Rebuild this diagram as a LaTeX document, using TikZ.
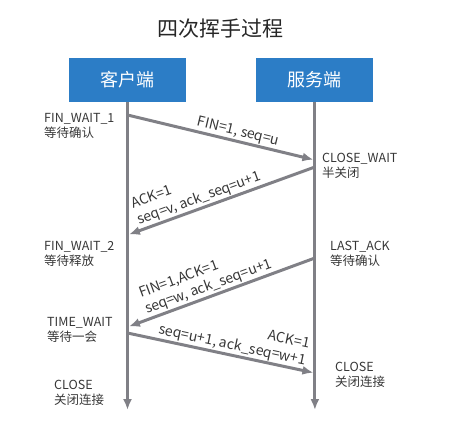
\documentclass[tikz,border=0pt]{standalone}
\usepackage{fontspec}
\setmainfont{Noto Sans CJK SC}
\usepackage{tikz}
\usetikzlibrary{arrows.meta,positioning}
\definecolor{boxblue}{RGB}{44,125,198}
\definecolor{linegray}{RGB}{128,128,134}
\definecolor{txtgray}{RGB}{55,55,55}
\tikzset{>={Latex[length=11pt,width=9pt]}}

\begin{document}
\begin{tikzpicture}[x=1pt,y=-1pt,
    hostbox/.style={fill=boxblue, text=white, inner sep=0pt, minimum width=117pt, minimum height=44pt, font=\fontsize{18}{20}\selectfont},
    life/.style={draw=linegray, line width=3pt, ->},
    msg/.style={draw=linegray, line width=3pt, ->, shorten >=1.5pt},
    msglabel/.style={sloped, above, inner sep=1pt, text=txtgray, font=\fontsize{14}{17}\selectfont},
    statelabel/.style={anchor=north west, inner sep=0pt, align=left, text=txtgray, font=\fontsize{12.5}{15}\selectfont}]
            \useasboundingbox (0,0) rectangle (474,445);

            \node[font=\fontsize{21}{24}\selectfont, text=black!85] (title) at (220,29) {四次挥手过程};

            \node[hostbox] (client) at (127.5,80) {客户端};
            \node[hostbox, right=70pt of client] (server) {服务端};

            % lifelines
            \coordinate (cend) at (client.south |- 0,410);
            \coordinate (send) at (server.south |- 0,410);
            \draw[life] (client.south) -- (cend);
            \draw[life] (server.south) -- (send);

            % message points
            \coordinate (c1) at (client.south |- 0,115);
            \coordinate (s1) at (server.south |- 0,160);
            \coordinate (s2) at (server.south |- 0,167);
            \coordinate (c2) at (client.south |- 0,235);
            \coordinate (s3) at (server.south |- 0,258);
            \coordinate (c3) at (client.south |- 0,327);
            \coordinate (c4) at (client.south |- 0,333);
            \coordinate (s4) at (server.south |- 0,373);

            \draw[msg] (c1) -- node[msglabel, pos=0.58] {FIN=1, seq=u} (s1);
            \draw[msg] (s2) -- node[msglabel, pos=0.6, align=left] {ACK=1\\seq=v, ack\_seq=u+1} (c2);
            \draw[msg] (s3) -- node[msglabel, pos=0.55, align=left] {FIN=1,ACK=1\\seq=w, ack\_seq=u+1} (c3);
            \draw[msg] (c4) -- node[msglabel, pos=0.55, align=right] {ACK=1\\seq=u+1, ack\_seq=w+1} (s4);

            % states
            \node[statelabel] (finwait1) at (44,113) {FIN\_WAIT\_1\\等待确认};
            \node[statelabel] (closewait) at (322,153) {CLOSE\_WAIT\\半关闭};
            \node[statelabel] (finwait2) at (44,241) {FIN\_WAIT\_2\\等待释放};
            \node[statelabel] (lastack) at (330,241) {LAST\_ACK\\等待确认};
            \node[statelabel] (timewait) at (47,317) {TIME\_WAIT\\等待一会};
            \node[statelabel] (cclose) at (54,380) {CLOSE\\关闭连接};
            \node[statelabel] (sclose) at (335,362) {CLOSE\\关闭连接};
\end{tikzpicture}
\end{document}
